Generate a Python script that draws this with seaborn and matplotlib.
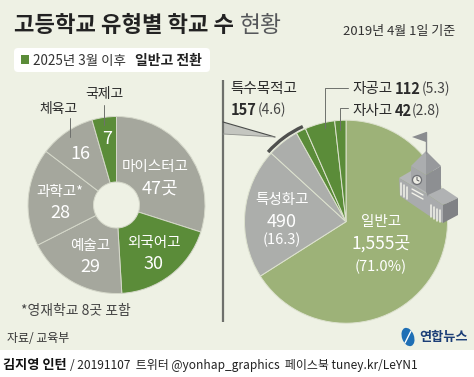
import matplotlib
matplotlib.use('Agg')
import matplotlib.pyplot as plt
from matplotlib.patches import Polygon, Rectangle, Circle, Ellipse, FancyBboxPatch, Arc
import seaborn as sns

# data
left_names = ['마이스터고', '외국어고', '예술고', '과학고', '체육고', '국제고']
left_values = [47, 30, 29, 28, 16, 7]
right_names = ['일반고', '특성화고', '특수목적고(일반)', '특수목적고(전환)', '자공고', '자사고']
right_values = [1555, 490, 120, 37, 112, 42]

BG = '#EEF1E4'
GRAY = '#A5A79D'
GRAY2 = '#ACAEAB'
GREEN = '#5B8C39'
LGREEN = '#9DB278'
DARK = '#2B2B2B'
MID = '#55575A'
LINE = '#6E706C'

sns.set_theme(style='white')
plt.rcParams['font.family'] = ['Noto Sans CJK KR', 'DejaVu Sans']

W, H = 474, 377
fig = plt.figure(figsize=(W / 100, H / 100), dpi=100, facecolor='white')

# pixel axes for all the text and decoration
bg = fig.add_axes([0, 0, 1, 1], zorder=0)
bg.set_xlim(0, W)
bg.set_ylim(H, 0)
bg.axis('off')
bg.add_patch(Rectangle((0, 0), W, 350, fc=BG, ec='none'))

top = fig.add_axes([0, 0, 1, 1], zorder=5)
top.set_xlim(0, W)
top.set_ylim(H, 0)
top.axis('off')
top.patch.set_alpha(0)


def pie_axes(cx, cy, r):
    ax = fig.add_axes([(cx - r) / W, 1 - (cy + r) / H, 2 * r / W, 2 * r / H], zorder=2)
    ax.set_xlim(-1, 1)
    ax.set_ylim(-1, 1)
    ax.axis('off')
    return ax


# left donut
ax1 = pie_axes(116.5, 205, 88.5)
left_colors = [GRAY, GREEN, GRAY, GRAY, GRAY, GREEN]
ax1.pie(left_values, colors=left_colors, startangle=90, counterclock=False, radius=1,
        wedgeprops=dict(width=1 - 23 / 88.5, edgecolor='#D5D8CA', linewidth=0.7))
ax1.set_xlim(-1, 1)
ax1.set_ylim(-1, 1)

# right pie
ax2 = pie_axes(346, 221.7, 101.5)
right_colors = [LGREEN, GRAY2, GRAY2, GREEN, GREEN, GREEN]
ax2.pie(right_values, colors=right_colors, startangle=90, counterclock=False, radius=1,
        wedgeprops=dict(edgecolor='#DDE2CF', linewidth=0.7))
ax2.set_xlim(-1, 1)
ax2.set_ylim(-1, 1)


def t(x, y, s, size=10, color=DARK, ha='center', weight='normal'):
    top.text(x, y, s, fontsize=size, color=color, ha=ha, va='center', fontweight=weight)


# title
t(14, 26, '고등학교 유형별 학교 수', 16, '#222222', 'left', 'bold')
t(240, 25, '현황', 16.4, MID, 'left')
t(455, 32, '2019년 4월 1일 기준', 9.4, '#333333', 'right')

# legend box
top.add_patch(FancyBboxPatch((14, 48), 196, 24, boxstyle='round,pad=0,rounding_size=4', fc='white', ec='none'))
top.add_patch(Rectangle((21, 55), 8, 9, fc=GREEN, ec='none'))
t(33, 60.5, '2025년 3월 이후 ', 9.7, '#333333', 'left')
t(135, 60.5, '일반고 전환', 10, '#222222', 'left', 'bold')

# divider and callout
top.plot([222.7, 222.7], [80, 322], color=LINE, lw=1.6, solid_capstyle='butt')
bg.add_patch(Polygon([(223, 122), (275, 137), (223, 134)], fc='#C4C6C0', ec='none'))
top.plot([223, 275], [122, 137], color='#4A4C4A', lw=0.8)
top.plot([223, 275], [134, 137], color='#8E908C', lw=0.6)

# arc over the special purpose school slice
bg.add_patch(Arc((346, 221.7), 2 * 104.5, 2 * 104.5, theta1=221.8, theta2=245.6, color='#4F504E', lw=2.4))

# left labels
t(104, 94, '국제고', 10, DARK)
t(59, 109, '체육고', 10, DARK)
top.plot([104, 104], [105, 125], color=LINE, lw=0.7)
top.plot([70, 70], [118, 137], color=LINE, lw=0.7)
t(107, 139, '7', 13, 'white')
t(80, 154, '16', 13, 'white')
t(155, 167, '마이스터고', 10.5, 'white')
t(160, 189, '47곳', 13, 'white')
t(60, 192, '과학고*', 10.5, 'white')
t(60, 213, '28', 13, 'white')
t(90, 246, '예술고', 10.5, 'white')
t(90, 267, '29', 13, 'white')
t(154, 243, '외국어고', 10.5, 'white')
t(154, 264, '30', 13, 'white')
t(76, 311, '*영재학교 8곳 포함', 10, '#444444')

# right labels
t(230, 89, '특수목적고', 10.5, DARK, 'left')
t(231, 110, '157', 10.5, DARK, 'left', 'bold')
t(258, 110, '(4.6)', 10, '#444444', 'left')
t(352, 89, '자공고', 10.5, DARK, 'left')
t(395, 89, '112', 10.5, DARK, 'left', 'bold')
t(422, 89, '(5.3)', 10, '#444444', 'left')
t(352, 111, '자사고', 10.5, DARK, 'left')
t(395, 111, '42', 10.5, DARK, 'left', 'bold')
t(412, 111, '(2.8)', 10, '#444444', 'left')
top.plot([348, 325, 325], [88, 88, 128], color=LINE, lw=0.7)
top.plot([348, 340, 340], [108, 108, 130], color=LINE, lw=0.7)
t(282, 200, '특성화고', 10.5, 'white')
t(282, 222, '490', 13, 'white')
t(282, 240, '(16.3)', 10.5, 'white')
t(381, 222, '일반고', 10.5, 'white')
t(381, 244, '1,555곳', 12.5, 'white')
t(381, 267, '(71.0%)', 10.5, 'white')

# school icon
top.plot([426, 426], [132, 153], color='#8A8C8F', lw=1)
top.add_patch(Polygon([(426, 132), (412, 137), (426, 142)], fc='#8A8C8F', ec='none'))
top.add_patch(Polygon([(399, 178), (411, 171), (428, 181), (428, 195), (399, 178)], fc='#B5B7B8', ec='none'))
top.add_patch(Polygon([(399, 178), (428, 195), (428, 215), (400, 196)], fc='#A9ABAD', ec='none'))
top.add_patch(Polygon([(411, 166), (426, 175), (426, 192), (411, 183)], fc='#A5A7A9', ec='none'))
top.add_patch(Polygon([(426, 175), (441, 166), (441, 190), (428, 197), (426, 192)], fc='#8D8F92', ec='none'))
top.add_patch(Polygon([(426, 151), (411, 166), (426, 175)], fc='#ABADAF', ec='none'))
top.add_patch(Polygon([(426, 151), (441, 166), (426, 175)], fc='#97999C', ec='none'))
top.add_patch(Polygon([(428, 195), (443, 188), (458, 198), (443, 205)], fc='#B0B2B3', ec='none'))
top.add_patch(Polygon([(428, 195), (443, 205), (443, 223), (428, 215)], fc='#A9ABAD', ec='none'))
top.add_patch(Polygon([(443, 205), (458, 198), (458, 215), (443, 223)], fc='#808285', ec='none'))
top.add_patch(Circle((417, 180), 4.5, fc='#EDEDE5', ec='#6E7074', lw=0.9))
top.plot([417, 417, 419], [177, 180, 181], color='#55575A', lw=0.7)
for x in [401.5, 404.5, 407.5]:
    top.plot([x, x], [183 + (x - 401) * 0.6, 195 + (x - 401) * 0.6], color='#F2F2EA', lw=1.1)
for x in [431, 434, 437, 440]:
    top.plot([x, x], [205 + (x - 431) * 0.6, 217 + (x - 431) * 0.6], color='#F2F2EA', lw=1.1)
top.plot([412, 423], [189, 195], color='#F2F2EA', lw=1)
top.plot([412, 423], [193, 199], color='#F2F2EA', lw=1)

# footer
t(7, 338, '자료/ 교육부', 8.6, '#333333', 'left')
top.add_patch(Ellipse((408, 337), 12, 19, angle=-20, fc='#1F6FB5', ec='none'))
top.plot([405, 408, 411], [343, 337, 331], color='white', lw=1)
t(419, 337, '연합뉴스', 9.5, '#1C3F77', 'left', 'bold')
t(3, 365, '김지영 인턴', 9.5, '#111111', 'left', 'bold')
t(70, 365, '/ 20191107  트위터 @yonhap_graphics  페이스북 tuney.kr/LeYN1', 8.6, '#222222', 'left')

fig.savefig('out.png', dpi=100, facecolor='white')
